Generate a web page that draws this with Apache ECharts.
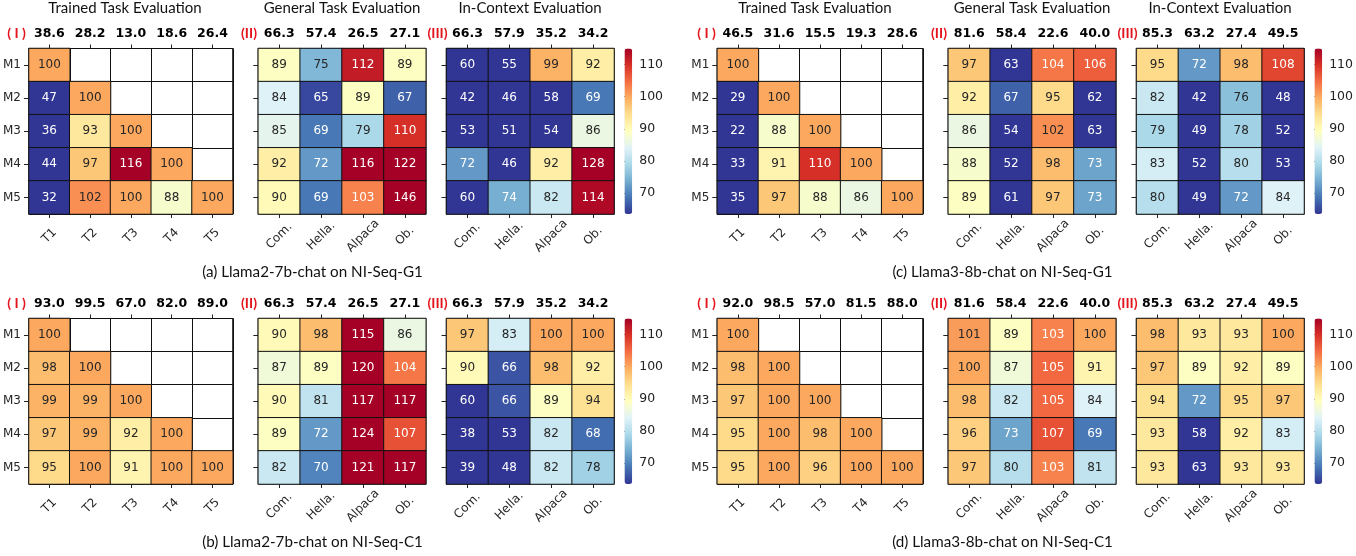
<!DOCTYPE html>
<html>
<head>
<meta charset="utf-8">
<script src="https://cdn.jsdelivr.net/npm/echarts@6/dist/echarts.min.js"></script>
<style>
html, body { margin: 0; padding: 0; background: #fff; }
#main { width: 1356px; height: 556px; }
</style>
</head>
<body>
<div id="main"></div>
<script>
// categories
var trainedCats = ['T1', 'T2', 'T3', 'T4', 'T5'];
var evalCats = ['Com.', 'Hella.', 'Alpaca', 'Ob.'];
var modelCats = ['M1', 'M2', 'M3', 'M4', 'M5'];
var colorbarTicks = [70, 80, 90, 100, 110];

// (a) Llama2-7b-chat on NI-Seq-G1
var trainedA = [[100], [47, 100], [36, 93, 100], [44, 97, 116, 100], [32, 102, 100, 88, 100]];
var generalA = [[89, 75, 112, 89], [84, 65, 89, 67], [85, 69, 79, 110], [92, 72, 116, 122], [90, 69, 103, 146]];
var contextA = [[60, 55, 99, 92], [42, 46, 58, 69], [53, 51, 54, 86], [72, 46, 92, 128], [60, 74, 82, 114]];
var topTrainedA = ['38.6', '28.2', '13.0', '18.6', '26.4'];
var topGeneralA = ['66.3', '57.4', '26.5', '27.1'];
var topContextA = ['66.3', '57.9', '35.2', '34.2'];

// (b) Llama2-7b-chat on NI-Seq-C1
var trainedB = [[100], [98, 100], [99, 99, 100], [97, 99, 92, 100], [95, 100, 91, 100, 100]];
var generalB = [[90, 98, 115, 86], [87, 89, 120, 104], [90, 81, 117, 117], [89, 72, 124, 107], [82, 70, 121, 117]];
var contextB = [[97, 83, 100, 100], [90, 66, 98, 92], [60, 66, 89, 94], [38, 53, 82, 68], [39, 48, 82, 78]];
var topTrainedB = ['93.0', '99.5', '67.0', '82.0', '89.0'];
var topGeneralB = ['66.3', '57.4', '26.5', '27.1'];
var topContextB = ['66.3', '57.9', '35.2', '34.2'];

// (c) Llama3-8b-chat on NI-Seq-G1
var trainedC = [[100], [29, 100], [22, 88, 100], [33, 91, 110, 100], [35, 97, 88, 86, 100]];
var generalC = [[97, 63, 104, 106], [92, 67, 95, 62], [86, 54, 102, 63], [88, 52, 98, 73], [89, 61, 97, 73]];
var contextC = [[95, 72, 98, 108], [82, 42, 76, 48], [79, 49, 78, 52], [83, 52, 80, 53], [80, 49, 72, 84]];
var topTrainedC = ['46.5', '31.6', '15.5', '19.3', '28.6'];
var topGeneralC = ['81.6', '58.4', '22.6', '40.0'];
var topContextC = ['85.3', '63.2', '27.4', '49.5'];

// (d) Llama3-8b-chat on NI-Seq-C1
var trainedD = [[100], [98, 100], [97, 100, 100], [95, 100, 98, 100], [95, 100, 96, 100, 100]];
var generalD = [[101, 89, 103, 100], [100, 87, 105, 91], [98, 82, 105, 84], [96, 73, 107, 69], [97, 80, 103, 81]];
var contextD = [[98, 93, 93, 100], [97, 89, 92, 89], [94, 72, 95, 97], [93, 58, 92, 83], [93, 63, 93, 93]];
var topTrainedD = ['92.0', '98.5', '57.0', '81.5', '88.0'];
var topGeneralD = ['81.6', '58.4', '22.6', '40.0'];
var topContextD = ['85.3', '63.2', '27.4', '49.5'];

var panels = [
    {mats: [trainedA, generalA, contextA], tops: [topTrainedA, topGeneralA, topContextA], cap: '(a) Llama2-7b-chat on NI-Seq-G1', dx: 0, dy: 0, titles: true},
    {mats: [trainedB, generalB, contextB], tops: [topTrainedB, topGeneralB, topContextB], cap: '(b) Llama2-7b-chat on NI-Seq-C1', dx: 0, dy: 270, titles: false},
    {mats: [trainedC, generalC, contextC], tops: [topTrainedC, topGeneralC, topContextC], cap: '(c) Llama3-8b-chat on NI-Seq-G1', dx: 690, dy: 0, titles: true},
    {mats: [trainedD, generalD, contextD], tops: [topTrainedD, topGeneralD, topContextD], cap: '(d) Llama3-8b-chat on NI-Seq-C1', dx: 690, dy: 270, titles: false}
];

// RdYlBu_r
var cmap = ['#313695', '#4575b4', '#74add1', '#abd9e9', '#e0f3f8', '#ffffbf', '#fee090', '#fdae61', '#f46d43', '#d73027', '#a50026'];
var vmin = 63.5, vmax = 115;

var gTop = 48.5, gH = 165.5;
var boxes = [
    {left: 27.3, w: 205.5, cats: trainedCats, title: 'Trained Task Evaluation', tx: 125, roman: '( I )', rx: 16.5},
    {left: 258.3, w: 167.5, cats: evalCats, title: 'General Task Evaluation', tx: 342, roman: '(II)', rx: 249},
    {left: 446.5, w: 167.5, cats: evalCats, title: 'In-Context Evaluation', tx: 530, roman: '(III)', rx: 437.5}
];
var cbLeft = 624.5, cbW = 7.7;
var dejavu = 'DejaVu Sans';
var txtDark = '#262626';

function txtColor(v) {
    return (v < 74.5 || v >= 103) ? '#ffffff' : txtDark;
}

function cellData(rows) {
    var out = [];
    for (var i = 0; i < rows.length; i++) {
        for (var j = 0; j < rows[i].length; j++) {
            var v = rows[i][j];
            out.push({value: [j, i, v], label: {color: txtColor(v)}});
        }
    }
    return out;
}

var grids = [], xAxes = [], yAxes = [], series = [], visualMaps = [], graphics = [];

for (var p = 0; p < panels.length; p++) {
    var pn = panels[p];
    var sIdx = [];
    for (var k = 0; k < 3; k++) {
        var b = boxes[k];
        var trained = (k === 0);
        var gi = grids.length;
        grids.push({
            left: b.left + pn.dx, top: gTop + pn.dy, width: b.w, height: gH,
            show: true, backgroundColor: '#fff', borderColor: '#111', borderWidth: 1.2
        });
        var xb = xAxes.length;
        xAxes.push({
            type: 'category', gridIndex: gi, data: b.cats, position: 'bottom',
            axisLine: {show: false, onZero: false},
            axisTick: {show: true, length: 4, alignWithLabel: true, lineStyle: {color: '#222'}},
            axisLabel: {interval: 0, rotate: 45, align: 'center', verticalAlign: 'middle', margin: 22,
                fontSize: 12, fontFamily: dejavu, color: txtDark},
            splitLine: {show: trained, interval: 0, lineStyle: {color: '#111', width: 1}}
        });
        xAxes.push({
            type: 'category', gridIndex: gi, data: pn.tops[k], position: 'top',
            axisLine: {show: false, onZero: false},
            axisTick: {show: true, length: 4, alignWithLabel: true, lineStyle: {color: '#222'}},
            axisLabel: {interval: 0, margin: 8, fontSize: 12.5, fontWeight: 'bold', fontFamily: dejavu, color: '#000'}
        });
        var yi = yAxes.length;
        yAxes.push({
            type: 'category', gridIndex: gi, data: modelCats, inverse: true,
            axisLine: {show: false, onZero: false},
            axisTick: {show: true, length: 5, alignWithLabel: true, lineStyle: {color: '#222'}},
            axisLabel: {show: trained, interval: 0, margin: 8, fontSize: 12, fontFamily: dejavu, color: txtDark},
            splitLine: {show: trained, interval: 0, lineStyle: {color: '#111', width: 1}}
        });
        sIdx.push(series.length);
        series.push({
            type: 'heatmap', xAxisIndex: xb, yAxisIndex: yi,
            data: cellData(pn.mats[k]),
            label: {show: true, fontSize: 12, fontFamily: dejavu,
                formatter: function (prm) { return prm.value[2]; }},
            itemStyle: {borderColor: '#111', borderWidth: 1},
            emphasis: {disabled: true}
        });

        graphics.push({
            type: 'text', x: b.rx + pn.dx, y: 33 + pn.dy,
            style: {text: b.roman, font: 'bold 14px Lato', fill: '#e3141c', align: 'center', verticalAlign: 'middle'}
        });
        if (pn.titles) {
            graphics.push({
                type: 'text', x: b.tx + pn.dx, y: 8.5 + pn.dy,
                style: {text: b.title, font: '15px Lato', fill: '#111', align: 'center', verticalAlign: 'middle'}
            });
        }
    }

    // colorbar ticks
    var cg = grids.length;
    grids.push({left: cbLeft + pn.dx, top: gTop + pn.dy, width: cbW, height: gH, show: false});
    xAxes.push({type: 'value', gridIndex: cg, show: false, min: 0, max: 1});
    yAxes.push({
        type: 'value', gridIndex: cg, min: vmin, max: vmax, position: 'right',
        axisLine: {show: false},
        axisTick: {show: true, length: 4, customValues: colorbarTicks, lineStyle: {color: '#222'}},
        axisLabel: {customValues: colorbarTicks, margin: 7, fontSize: 12.5, fontFamily: dejavu, color: '#222'},
        splitLine: {show: false}
    });

    visualMaps.push({
        type: 'continuous', seriesIndex: sIdx, min: vmin, max: vmax,
        left: cbLeft + pn.dx, top: gTop + pn.dy, itemWidth: cbW, itemHeight: gH,
        padding: 0, calculable: false, hoverLink: false, show: true,
        inRange: {color: cmap}
    });

    graphics.push({
        type: 'text', x: 312.5 + pn.dx, y: 272 + pn.dy,
        style: {text: pn.cap, font: '15.2px Lato', fill: '#111', align: 'center', verticalAlign: 'middle'}
    });
}

var myChart = echarts.init(document.getElementById('main'));
var option = {
    animation: false,
    backgroundColor: '#fff',
    grid: grids,
    xAxis: xAxes,
    yAxis: yAxes,
    visualMap: visualMaps,
    series: series,
    graphic: graphics
};
myChart.setOption(option);
</script>
</body>
</html>
